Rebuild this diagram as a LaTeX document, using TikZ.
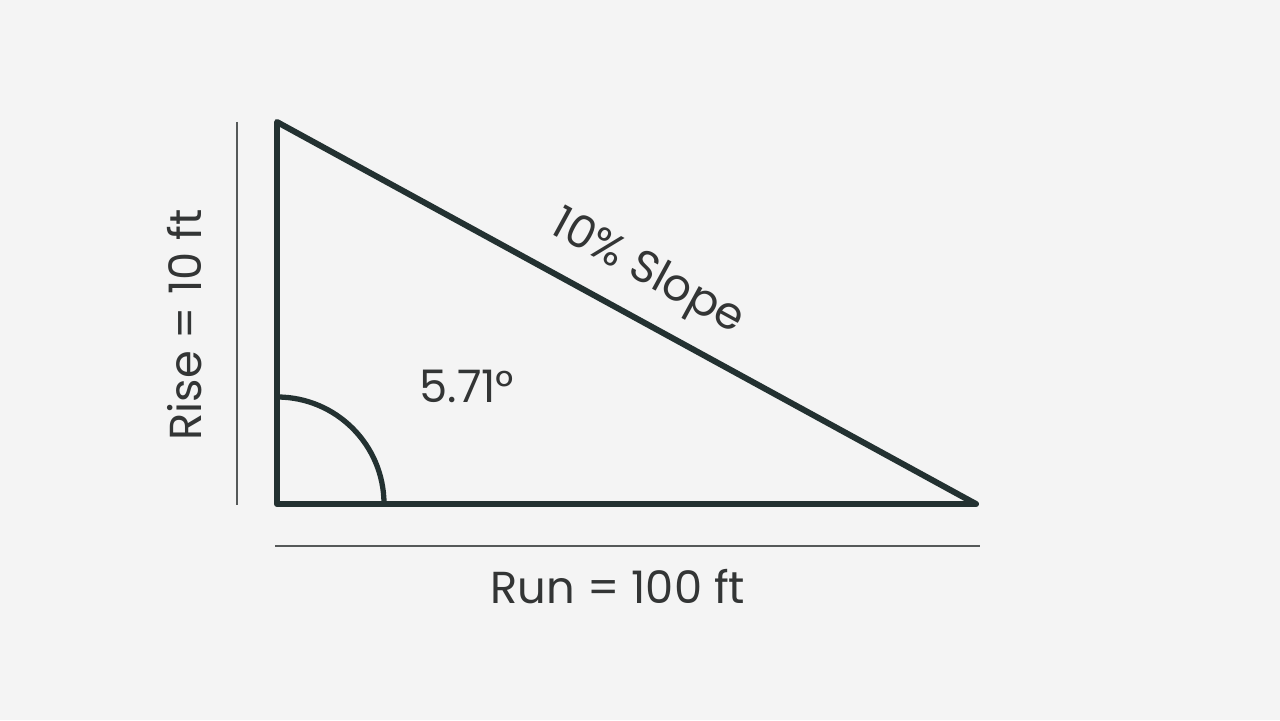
\documentclass[tikz,border=0pt]{standalone}
\usepackage{fontspec}
\setmainfont{Poppins}
\definecolor{bgcol}{HTML}{F4F4F4}
\definecolor{inkcol}{HTML}{233131}
\definecolor{dimcol}{HTML}{555959}
\definecolor{txtcol}{HTML}{333535}
\begin{document}
\begin{tikzpicture}[x=0.02cm,y=0.02cm,
    label/.style={text=txtcol,font=\fontsize{25.5}{30}\selectfont,inner sep=0pt},
    dimline/.style={draw=dimcol,line width=1.1pt}]
        \fill[bgcol] (0,0) rectangle (1280,720);
        \coordinate (top) at (277,598);
        \coordinate (corner) at (277,216);
        \coordinate (tip) at (976,216);
        \begin{scope}[draw=inkcol,line width=3.4pt,line join=round]
            \draw (top) -- (corner) -- (tip) -- cycle;
            \draw[line width=3pt] (277,323) arc (90:0:107);
        \end{scope}
        \coordinate (rise a) at (237,598);
        \coordinate (rise b) at (237,215);
        \coordinate (run a) at (275,174);
        \coordinate (run b) at (980,174);
        \draw[dimline] (rise a) -- (rise b);
        \draw[dimline] (run a) -- (run b);
        \node[label,rotate=90] (rise) at (185,395) {Rise = 10 ft};
        \node[label] (run) at (618,133) {Run = 100 ft};
        \node[label] (angle) at (467,334) {5.71°};
        \node[label,rotate=-28.6] (slope) at (647,446) {10\% Slope};
    \end{tikzpicture}
\end{document}
